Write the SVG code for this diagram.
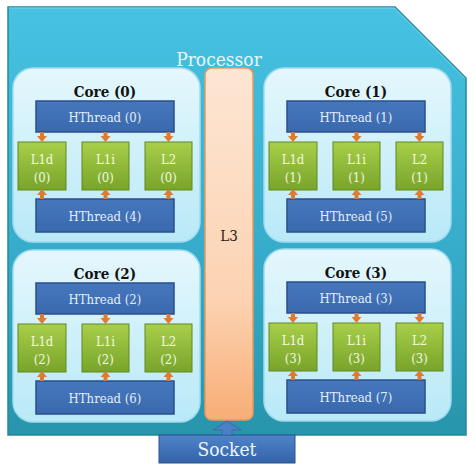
<svg xmlns="http://www.w3.org/2000/svg" width="474" height="467" viewBox="0 0 474 467" font-family="'DejaVu Serif Condensed', 'DejaVu Serif', serif">
<defs>
<linearGradient id="gProc" x1="0" y1="0" x2="0" y2="1">
<stop offset="0" stop-color="#47c2e2"/>
<stop offset="0.6" stop-color="#36abc9"/>
<stop offset="1" stop-color="#2795ab"/>
</linearGradient>
<linearGradient id="gCore" x1="0" y1="0" x2="0" y2="1">
<stop offset="0" stop-color="#e4f7fc"/>
<stop offset="1" stop-color="#b9e9f7"/>
</linearGradient>
<linearGradient id="gL3" x1="0" y1="0" x2="0" y2="1">
<stop offset="0" stop-color="#fde6d4"/>
<stop offset="0.65" stop-color="#fcd3b2"/>
<stop offset="1" stop-color="#f8ad76"/>
</linearGradient>
<linearGradient id="gHT" x1="0" y1="0" x2="0" y2="1">
<stop offset="0" stop-color="#4677bd"/>
<stop offset="1" stop-color="#3a69ad"/>
</linearGradient>
<linearGradient id="gGreen" x1="0" y1="0" x2="0" y2="1">
<stop offset="0" stop-color="#a9cf4a"/>
<stop offset="1" stop-color="#78a42a"/>
</linearGradient>
<linearGradient id="gSock" x1="0" y1="0" x2="0" y2="1">
<stop offset="0" stop-color="#4f84c8"/>
<stop offset="1" stop-color="#3462a8"/>
</linearGradient>
<path id="arD" d="M-2,0 h4 v4 h3 l-5,6 l-5,-6 h3 z"/>
<path id="arU" d="M-2,9 h4 v-4 h3 l-5,-6 l-5,6 h3 z"/>
</defs>
<style>
.core{fill:url(#gCore);stroke:#9fdcef;stroke-width:1.5}
.ht{fill:url(#gHT);stroke:#284f8c;stroke-width:1.5}
.grn{fill:url(#gGreen);stroke:#5e8a1e;stroke-width:1}
text{font-family:'DejaVu Serif Condensed','DejaVu Serif',serif;text-anchor:middle}
.ct{font-size:15px;font-weight:bold;fill:#111}
.htt{font-size:13px;fill:#e4eefa}
.gt{font-size:13px;fill:#f2f8e2}
.ar{fill:#e07a30}
</style>
<g id="processor">
<path d="M8,7 L395,7 L466,78 L466,435 L8,435 Z" fill="url(#gProc)" stroke="#2487a0" stroke-width="1.5"/>
<path d="M9,8 L394.5,8 L465,78.5" fill="none" stroke="#7ad6ee" stroke-width="1"/>
<text x="219" y="66" font-size="19" fill="#e8f7fc">Processor</text>
</g>
<g id="l3">
<rect x="205" y="68" width="48" height="352" rx="7" fill="url(#gL3)" stroke="#e49a62" stroke-width="1.5"/>
<text x="229" y="241" font-size="15" fill="#222">L3</text>
</g>
<g id="core0">
<rect class="core" x="13" y="68" width="187" height="174" rx="20"/>
<text class="ct" x="105" y="97">Core (0)</text>
<rect class="ht" x="36" y="101" width="138" height="31"/>
<text class="htt" x="105" y="122">HThread (0)</text>
<rect class="grn" x="18" y="142" width="48" height="48"/>
<rect class="grn" x="82" y="142" width="47" height="48"/>
<rect class="grn" x="145" y="142" width="47" height="48"/>
<text class="gt" x="42" y="164">L1d</text><text class="gt" x="42" y="182">(0)</text>
<text class="gt" x="105.5" y="164">L1i</text><text class="gt" x="105.5" y="182">(0)</text>
<text class="gt" x="168.5" y="164">L2</text><text class="gt" x="168.5" y="182">(0)</text>
<rect class="ht" x="36" y="199" width="138" height="33"/>
<text class="htt" x="105" y="221">HThread (4)</text>
</g>
<g id="core1" transform="translate(251,0)">
<rect class="core" x="13" y="68" width="187" height="174" rx="20"/>
<text class="ct" x="105" y="97">Core (1)</text>
<rect class="ht" x="36" y="101" width="138" height="31"/>
<text class="htt" x="105" y="122">HThread (1)</text>
<rect class="grn" x="18" y="142" width="48" height="48"/>
<rect class="grn" x="82" y="142" width="47" height="48"/>
<rect class="grn" x="145" y="142" width="47" height="48"/>
<text class="gt" x="42" y="164">L1d</text><text class="gt" x="42" y="182">(1)</text>
<text class="gt" x="105.5" y="164">L1i</text><text class="gt" x="105.5" y="182">(1)</text>
<text class="gt" x="168.5" y="164">L2</text><text class="gt" x="168.5" y="182">(1)</text>
<rect class="ht" x="36" y="199" width="138" height="33"/>
<text class="htt" x="105" y="221">HThread (5)</text>
</g>
<g id="core2" transform="translate(0,182)">
<rect class="core" x="13" y="68" width="187" height="172" rx="20"/>
<text class="ct" x="105" y="97">Core (2)</text>
<rect class="ht" x="36" y="101" width="138" height="31"/>
<text class="htt" x="105" y="122">HThread (2)</text>
<rect class="grn" x="18" y="142" width="48" height="48"/>
<rect class="grn" x="82" y="142" width="47" height="48"/>
<rect class="grn" x="145" y="142" width="47" height="48"/>
<text class="gt" x="42" y="164">L1d</text><text class="gt" x="42" y="182">(2)</text>
<text class="gt" x="105.5" y="164">L1i</text><text class="gt" x="105.5" y="182">(2)</text>
<text class="gt" x="168.5" y="164">L2</text><text class="gt" x="168.5" y="182">(2)</text>
<rect class="ht" x="36" y="199" width="138" height="33"/>
<text class="htt" x="105" y="221">HThread (6)</text>
</g>
<g id="core3" transform="translate(251,181)">
<rect class="core" x="13" y="68" width="187" height="172" rx="20"/>
<text class="ct" x="105" y="97">Core (3)</text>
<rect class="ht" x="36" y="101" width="138" height="31"/>
<text class="htt" x="105" y="122">HThread (3)</text>
<rect class="grn" x="18" y="142" width="48" height="48"/>
<rect class="grn" x="82" y="142" width="47" height="48"/>
<rect class="grn" x="145" y="142" width="47" height="48"/>
<text class="gt" x="42" y="164">L1d</text><text class="gt" x="42" y="182">(3)</text>
<text class="gt" x="105.5" y="164">L1i</text><text class="gt" x="105.5" y="182">(3)</text>
<text class="gt" x="168.5" y="164">L2</text><text class="gt" x="168.5" y="182">(3)</text>
<rect class="ht" x="36" y="199" width="138" height="33"/>
<text class="htt" x="105" y="221">HThread (7)</text>
</g>
<g id="socket">
<rect x="159" y="435" width="136" height="28" fill="url(#gSock)" stroke="#2a5294" stroke-width="1"/>
<text x="227" y="456" font-size="19" fill="#eef4fb">Socket</text>
</g>
<g id="connectors">
<g class="ar">
<use href="#arD" x="42" y="132"/><use href="#arD" x="105.5" y="132"/><use href="#arD" x="168.5" y="132"/>
<use href="#arU" x="42" y="190"/><use href="#arU" x="105.5" y="190"/><use href="#arU" x="168.5" y="190"/>
<use href="#arD" x="293" y="132"/><use href="#arD" x="356.5" y="132"/><use href="#arD" x="419.5" y="132"/>
<use href="#arU" x="293" y="190"/><use href="#arU" x="356.5" y="190"/><use href="#arU" x="419.5" y="190"/>
<use href="#arD" x="42" y="314"/><use href="#arD" x="105.5" y="314"/><use href="#arD" x="168.5" y="314"/>
<use href="#arU" x="42" y="372"/><use href="#arU" x="105.5" y="372"/><use href="#arU" x="168.5" y="372"/>
<use href="#arD" x="293" y="313"/><use href="#arD" x="356.5" y="313"/><use href="#arD" x="419.5" y="313"/>
<use href="#arU" x="293" y="371"/><use href="#arU" x="356.5" y="371"/><use href="#arU" x="419.5" y="371"/>
</g>
<path d="M222,435 V430 H213 L227,421 L241,430 H232 V435 Z" fill="#4a80c6" stroke="#35649f" stroke-width="0.8"/>
</g>
</svg>
